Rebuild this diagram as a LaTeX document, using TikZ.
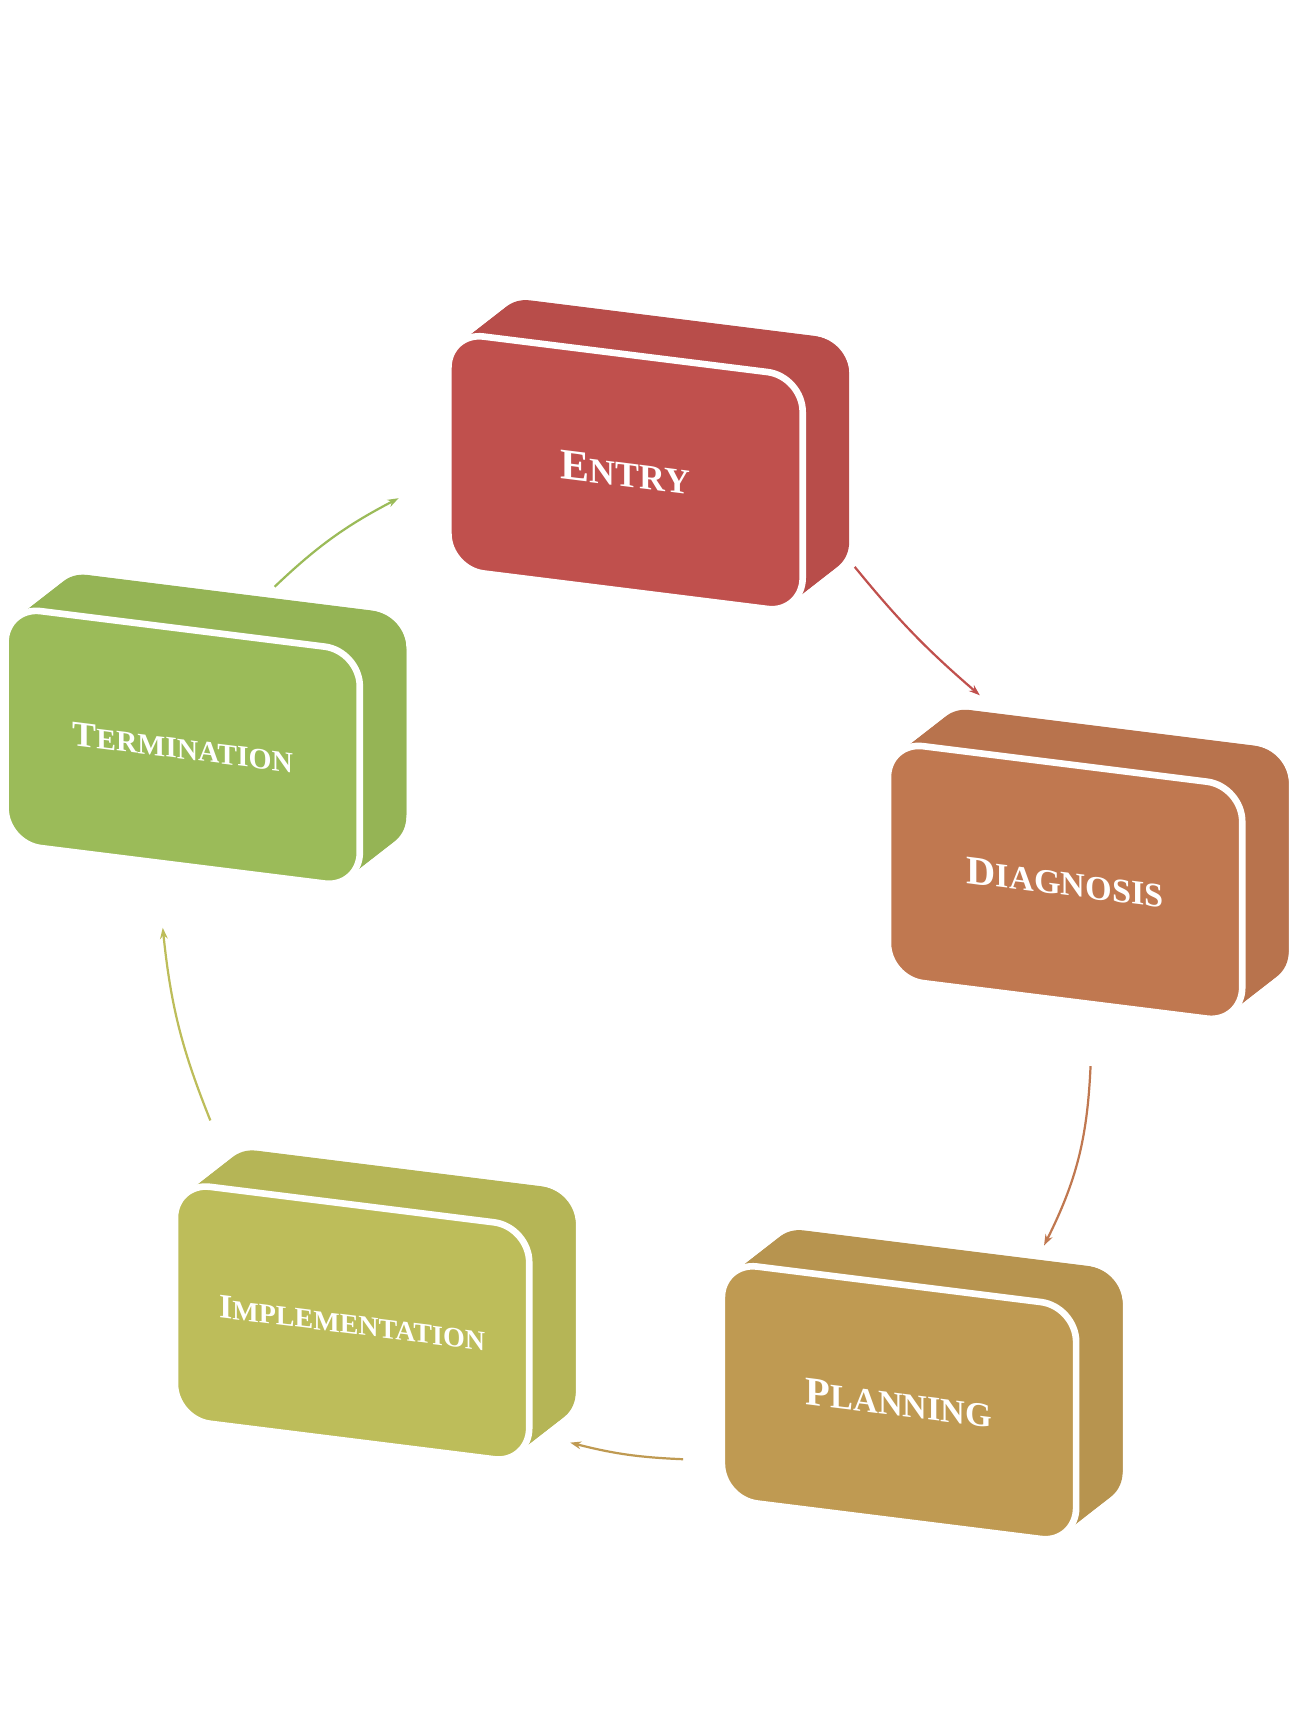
\documentclass[tikz,border=0pt]{standalone}
\usepackage{fontspec}
\setmainfont{Liberation Serif}
\usetikzlibrary{arrows.meta}
\definecolor{cEntry}{HTML}{C0504D}
\definecolor{cDiag}{HTML}{C07850}
\definecolor{cPlan}{HTML}{BF9A52}
\definecolor{cImpl}{HTML}{BDBD5A}
\definecolor{cTerm}{HTML}{9BBB59}
\tikzset{
 face/.style={draw=white,line width=0.3cm,rounded corners=1.6cm,minimum width=16cm,minimum height=10.7cm,yslant=-0.125,inner sep=0pt},
 facefill/.style={rounded corners=1.6cm,minimum width=16cm,minimum height=10.7cm,yslant=-0.125,inner sep=0pt},
 lbl/.style={text=white,font=\bfseries,yslant=-0.125},
 conn/.style={-{Stealth[length=0.5cm,width=0.35cm]},line width=0.1cm}
}
\newcommand\LB[2]{{\fontsize{#1}{#1}\selectfont #2}}
\newcommand\mycube[5]{%
 \node[face,fill=#3!96!black] at ([shift={(45,-35)}]#2) {};
 \foreach \k in {1,...,14}{\node[facefill,fill=#3!96!black] at ([shift={({45-3*\k},{-35+2.333*\k})}]#2) {};}
 \node[face,fill=#3] (#1) at (#2) {};
 \node[lbl] at (#2) {#5};}
\begin{document}
\begin{tikzpicture}[x=0.05cm,y=-0.05cm]
\useasboundingbox (0,0) rectangle (1165,1568);
\mycube{entry}{565,427}{cEntry}{}{\LB{56}{E}\LB{46}{NTRY}}
\mycube{diag}{962,797}{cDiag}{}{\LB{52}{D}\LB{44}{IAGNOSIS}}
\mycube{plan}{812,1267}{cPlan}{}{\LB{52}{P}\LB{44}{LANNING}}
\mycube{impl}{318,1195}{cImpl}{}{\LB{44}{I}\LB{36}{MPLEMENTATION}}
\mycube{term}{165,675}{cTerm}{}{\LB{46}{T}\LB{38}{ERMINATION}}
\coordinate (a1) at (772,512); \coordinate (b1) at (885,628);
\coordinate (a2) at (985,963); \coordinate (b2) at (943,1125);
\coordinate (a3) at (617,1318); \coordinate (b3) at (515,1303);
\coordinate (a4) at (190,1012); \coordinate (b4) at (147,838);
\coordinate (a5) at (248,530); \coordinate (b5) at (360,450);
\draw[conn,cEntry] (a1) to[bend right=5] (b1);
\draw[conn,cDiag] (a2) to[bend left=12] (b2);
\draw[conn,cPlan] (a3) to[bend left=6] (b3);
\draw[conn,cImpl] (a4) to[bend left=8] (b4);
\draw[conn,cTerm] (a5) to[bend left=8] (b5);
\end{tikzpicture}
\end{document}
